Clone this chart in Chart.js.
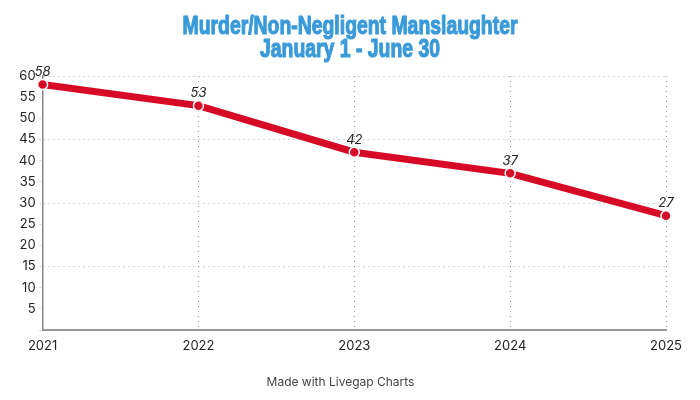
<!DOCTYPE html>
<html>
<head>
<meta charset="utf-8">
<script src="https://cdn.jsdelivr.net/npm/chart.js@4"></script>
<style>
  body { margin: 0; background: #fff; }
  #wrap { width: 700px; height: 400px; }
</style>
</head>
<body>
<div id="wrap"><canvas id="lineChart"></canvas></div>
<script>
var years = ['2021', '2022', '2023', '2024', '2025'];
var murders = [58, 53, 42, 37, 27];
var titleLines = ['Murder/Non-Negligent Manslaughter', 'January 1 - June 30'];

// draws the value above each point, like the livegap labels
var valueLabels = {
    id: 'valueLabels',
    afterDatasetsDraw: function (chart) {
        var c = chart.ctx;
        var meta = chart.getDatasetMeta(0);
        c.save();
        c.font = 'italic 13px Inter, "DejaVu Sans", sans-serif';
        c.fillStyle = '#222';
        c.textAlign = 'center';
        c.textBaseline = 'bottom';
        meta.data.forEach(function (pt, i) {
            c.fillText(murders[i], pt.x, pt.y - 6);
        });
        c.restore();
    }
};

// condensed heavy title (no Anton-style font installed, so squeeze a bold one)
var squeezedTitle = {
    id: 'squeezedTitle',
    afterDraw: function (chart) {
        var c = chart.ctx;
        c.save();
        c.font = 'bold 26px "Liberation Sans", Arial, sans-serif';
        c.fillStyle = '#3a9ad9';
        c.strokeStyle = '#3a9ad9';
        c.lineWidth = 1.2;
        c.textAlign = 'center';
        c.textBaseline = 'alphabetic';
        var sx = 335 / c.measureText(titleLines[0]).width;
        c.translate(chart.width / 2, 0);
        c.scale(sx, 1);
        c.fillText(titleLines[0], 0, 34);
        c.strokeText(titleLines[0], 0, 34);
        c.fillText(titleLines[1], 0, 57);
        c.strokeText(titleLines[1], 0, 57);
        c.restore();
    }
};

var ctx = document.getElementById('lineChart').getContext('2d');
var myChart = new Chart(ctx, {
    type: 'line',
    data: {
        labels: years,
        datasets: [{
            label: 'Murder',
            data: murders,
            borderColor: 'rgb(214, 10, 38)',
            backgroundColor: 'rgb(214, 10, 38)',
            borderWidth: 7,
            pointRadius: 5,
            pointBorderColor: '#fff',
            pointBorderWidth: 1.5,
            pointBackgroundColor: 'rgb(214, 10, 38)',
            tension: 0
        }]
    },
    options: {
        responsive: true,
        maintainAspectRatio: false,
        animation: false,
        layout: { padding: { left: 15, right: 34, top: 76, bottom: 4 } },
        plugins: {
            legend: { display: false },
            tooltip: { enabled: false },
            title: { display: false },
            subtitle: {
                display: true,
                position: 'bottom',
                text: 'Made with Livegap Charts',
                color: '#444',
                font: { family: 'Inter, sans-serif', size: 12 },
                padding: { top: 14, bottom: 6 }
            }
        },
        scales: {
            x: {
                grid: {
                    color: function (c) { return c.index === 0 ? 'rgba(0,0,0,0)' : '#999'; },
                    drawTicks: false
                },
                border: { color: '#999', width: 2, dash: [1, 4] },
                ticks: { color: '#222', padding: 8, font: { family: 'Inter, sans-serif', size: 13 } }
            },
            y: {
                min: 0,
                max: 60,
                grid: {
                    color: function (c) {
                        var v = c.tick ? c.tick.value : 0;
                        return (v > 0 && v % 15 === 0) ? '#aaa' : 'rgba(0,0,0,0)';
                    },
                    tickColor: '#aaa',
                    tickLength: 3,
                    tickBorderDash: [1, 2]
                },
                border: { color: '#888', width: 1.5, dash: [1, 4] },
                ticks: {
                    stepSize: 5,
                    color: '#222',
                    padding: 4,
                    font: { family: 'Inter, sans-serif', size: 13 },
                    callback: function (v) { return v === 0 ? '' : v; }
                }
            }
        }
    },
    plugins: [valueLabels, squeezedTitle]
});
</script>
</body>
</html>
